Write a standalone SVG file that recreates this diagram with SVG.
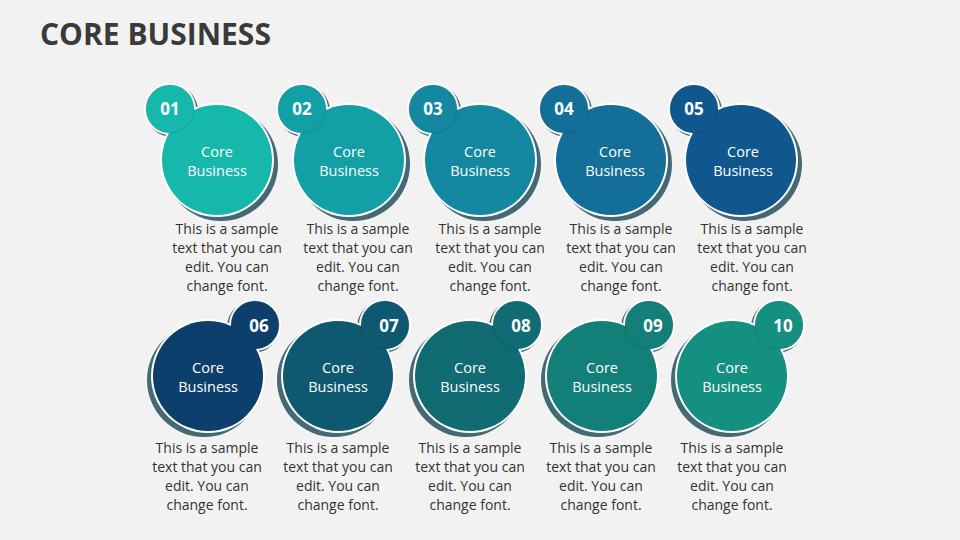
<svg xmlns="http://www.w3.org/2000/svg" width="960" height="540" viewBox="0 0 960 540">
<style>
.t{font-family:"Open Sans","Liberation Sans",sans-serif;font-size:14px;fill:#333;text-anchor:middle}
.c{font-family:"Open Sans","Liberation Sans",sans-serif;font-size:14.5px;fill:#fff;text-anchor:middle}
.n{font-family:"Open Sans","Liberation Sans",sans-serif;font-size:17px;font-weight:bold;fill:#fff;text-anchor:middle}
.w{fill:#fff}
</style>
<defs>
<g id="top">
<circle cx="4" cy="4" r="57" fill-opacity="0.75" fill="#0a3b4a"/>
<line x1="4" y1="4" x2="-43" y2="-47" stroke="#0a3b4a" stroke-opacity="0.75" stroke-width="34"/>
<circle cx="-45" cy="-49" r="26" fill="#0a3b4a" fill-opacity="0.75"/>
<circle cx="0" cy="0" r="57" class="w"/>
<line x1="0" y1="0" x2="-47" y2="-51" stroke="#fff" stroke-width="38"/>
<circle cx="-47" cy="-51" r="26" class="w"/>
</g>
<g id="bot">
<circle cx="-4" cy="4" r="57" fill="#0a3b4a" fill-opacity="0.75"/>
<line x1="-4" y1="4" x2="43" y2="-47" stroke="#0a3b4a" stroke-opacity="0.75" stroke-width="34"/>
<circle cx="45" cy="-49" r="26" fill="#0a3b4a" fill-opacity="0.75"/>
<circle cx="0" cy="0" r="57" class="w"/>
<line x1="0" y1="0" x2="47" y2="-51" stroke="#fff" stroke-width="38"/>
<circle cx="47" cy="-51" r="26" class="w"/>
</g>
</defs>
<rect width="960" height="540" fill="#f2f2f2"/>
<text x="40" y="45" font-family="'Open Sans','Liberation Sans',sans-serif" font-size="30" font-weight="bold" fill="#3a3a3a">CORE BUSINESS</text>

<g id="node1" transform="translate(217,160)"><use href="#top"/><g fill="#16b8ac"><circle r="55"/><line x2="-47" y2="-51" stroke="#16b8ac" stroke-width="34"/><circle cx="-47" cy="-51" r="24"/></g><circle cx="-47" cy="-51" r="24" fill="none" stroke="#000" stroke-opacity="0.12"/><text class="n" x="-47" y="-45">01</text><text class="c" x="0" y="-3">Core</text><text class="c" x="0" y="16">Business</text></g>
<g id="node2" transform="translate(349,160)"><use href="#top"/><g fill="#12a0a6"><circle r="55"/><line x2="-47" y2="-51" stroke="#12a0a6" stroke-width="34"/><circle cx="-47" cy="-51" r="24"/></g><circle cx="-47" cy="-51" r="24" fill="none" stroke="#000" stroke-opacity="0.12"/><text class="n" x="-47" y="-45">02</text><text class="c" x="0" y="-3">Core</text><text class="c" x="0" y="16">Business</text></g>
<g id="node3" transform="translate(480,160)"><use href="#top"/><g fill="#1488a0"><circle r="55"/><line x2="-47" y2="-51" stroke="#1488a0" stroke-width="34"/><circle cx="-47" cy="-51" r="24"/></g><circle cx="-47" cy="-51" r="24" fill="none" stroke="#000" stroke-opacity="0.12"/><text class="n" x="-47" y="-45">03</text><text class="c" x="0" y="-3">Core</text><text class="c" x="0" y="16">Business</text></g>
<g id="node4" transform="translate(611,160)"><use href="#top"/><g fill="#136f98"><circle r="55"/><line x2="-47" y2="-51" stroke="#136f98" stroke-width="34"/><circle cx="-47" cy="-51" r="24"/></g><circle cx="-47" cy="-51" r="24" fill="none" stroke="#000" stroke-opacity="0.12"/><text class="n" x="-47" y="-45">04</text><text class="c" x="4" y="-3">Core</text><text class="c" x="4" y="16">Business</text></g>
<g id="node5" transform="translate(741,160)"><use href="#top"/><g fill="#10578e"><circle r="55"/><line x2="-47" y2="-51" stroke="#10578e" stroke-width="34"/><circle cx="-47" cy="-51" r="24"/></g><circle cx="-47" cy="-51" r="24" fill="none" stroke="#000" stroke-opacity="0.12"/><text class="n" x="-47" y="-45">05</text><text class="c" x="2" y="-3">Core</text><text class="c" x="2" y="16">Business</text></g>

<g id="node6" transform="translate(208,376)"><use href="#bot"/><g fill="#0c3f6b"><circle r="55"/><line x2="47" y2="-51" stroke="#0c3f6b" stroke-width="34"/><circle cx="47" cy="-51" r="24"/></g><circle cx="47" cy="-51" r="24" fill="none" stroke="#000" stroke-opacity="0.12"/><text class="n" x="51" y="-44">06</text><text class="c" x="0" y="-3">Core</text><text class="c" x="0" y="16">Business</text></g>
<g id="node7" transform="translate(338,376)"><use href="#bot"/><g fill="#0e5870"><circle r="55"/><line x2="47" y2="-51" stroke="#0e5870" stroke-width="34"/><circle cx="47" cy="-51" r="24"/></g><circle cx="47" cy="-51" r="24" fill="none" stroke="#000" stroke-opacity="0.12"/><text class="n" x="51" y="-44">07</text><text class="c" x="0" y="-3">Core</text><text class="c" x="0" y="16">Business</text></g>
<g id="node8" transform="translate(470,376)"><use href="#bot"/><g fill="#106b72"><circle r="55"/><line x2="47" y2="-51" stroke="#106b72" stroke-width="34"/><circle cx="47" cy="-51" r="24"/></g><circle cx="47" cy="-51" r="24" fill="none" stroke="#000" stroke-opacity="0.12"/><text class="n" x="51" y="-44">08</text><text class="c" x="0" y="-3">Core</text><text class="c" x="0" y="16">Business</text></g>
<g id="node9" transform="translate(602,376)"><use href="#bot"/><g fill="#127f78"><circle r="55"/><line x2="47" y2="-51" stroke="#127f78" stroke-width="34"/><circle cx="47" cy="-51" r="24"/></g><circle cx="47" cy="-51" r="24" fill="none" stroke="#000" stroke-opacity="0.12"/><text class="n" x="51" y="-44">09</text><text class="c" x="0" y="-3">Core</text><text class="c" x="0" y="16">Business</text></g>
<g id="node10" transform="translate(732,376)"><use href="#bot"/><g fill="#13907f"><circle r="55"/><line x2="47" y2="-51" stroke="#13907f" stroke-width="34"/><circle cx="47" cy="-51" r="24"/></g><circle cx="47" cy="-51" r="24" fill="none" stroke="#000" stroke-opacity="0.12"/><text class="n" x="51" y="-44">10</text><text class="c" x="0" y="-3">Core</text><text class="c" x="0" y="16">Business</text></g>

<g id="texts">
<g class="t"><text x="227" y="234">This is a sample</text><text x="227" y="253">text that you can</text><text x="227" y="272">edit. You can</text><text x="227" y="291">change font.</text></g>
<g class="t"><text x="358" y="234">This is a sample</text><text x="358" y="253">text that you can</text><text x="358" y="272">edit. You can</text><text x="358" y="291">change font.</text></g>
<g class="t"><text x="490" y="234">This is a sample</text><text x="490" y="253">text that you can</text><text x="490" y="272">edit. You can</text><text x="490" y="291">change font.</text></g>
<g class="t"><text x="621" y="234">This is a sample</text><text x="621" y="253">text that you can</text><text x="621" y="272">edit. You can</text><text x="621" y="291">change font.</text></g>
<g class="t"><text x="752" y="234">This is a sample</text><text x="752" y="253">text that you can</text><text x="752" y="272">edit. You can</text><text x="752" y="291">change font.</text></g>
<g class="t"><text x="207" y="453">This is a sample</text><text x="207" y="472">text that you can</text><text x="207" y="491">edit. You can</text><text x="207" y="510">change font.</text></g>
<g class="t"><text x="338" y="453">This is a sample</text><text x="338" y="472">text that you can</text><text x="338" y="491">edit. You can</text><text x="338" y="510">change font.</text></g>
<g class="t"><text x="470" y="453">This is a sample</text><text x="470" y="472">text that you can</text><text x="470" y="491">edit. You can</text><text x="470" y="510">change font.</text></g>
<g class="t"><text x="601" y="453">This is a sample</text><text x="601" y="472">text that you can</text><text x="601" y="491">edit. You can</text><text x="601" y="510">change font.</text></g>
<g class="t"><text x="732" y="453">This is a sample</text><text x="732" y="472">text that you can</text><text x="732" y="491">edit. You can</text><text x="732" y="510">change font.</text></g>
</g>
</svg>
